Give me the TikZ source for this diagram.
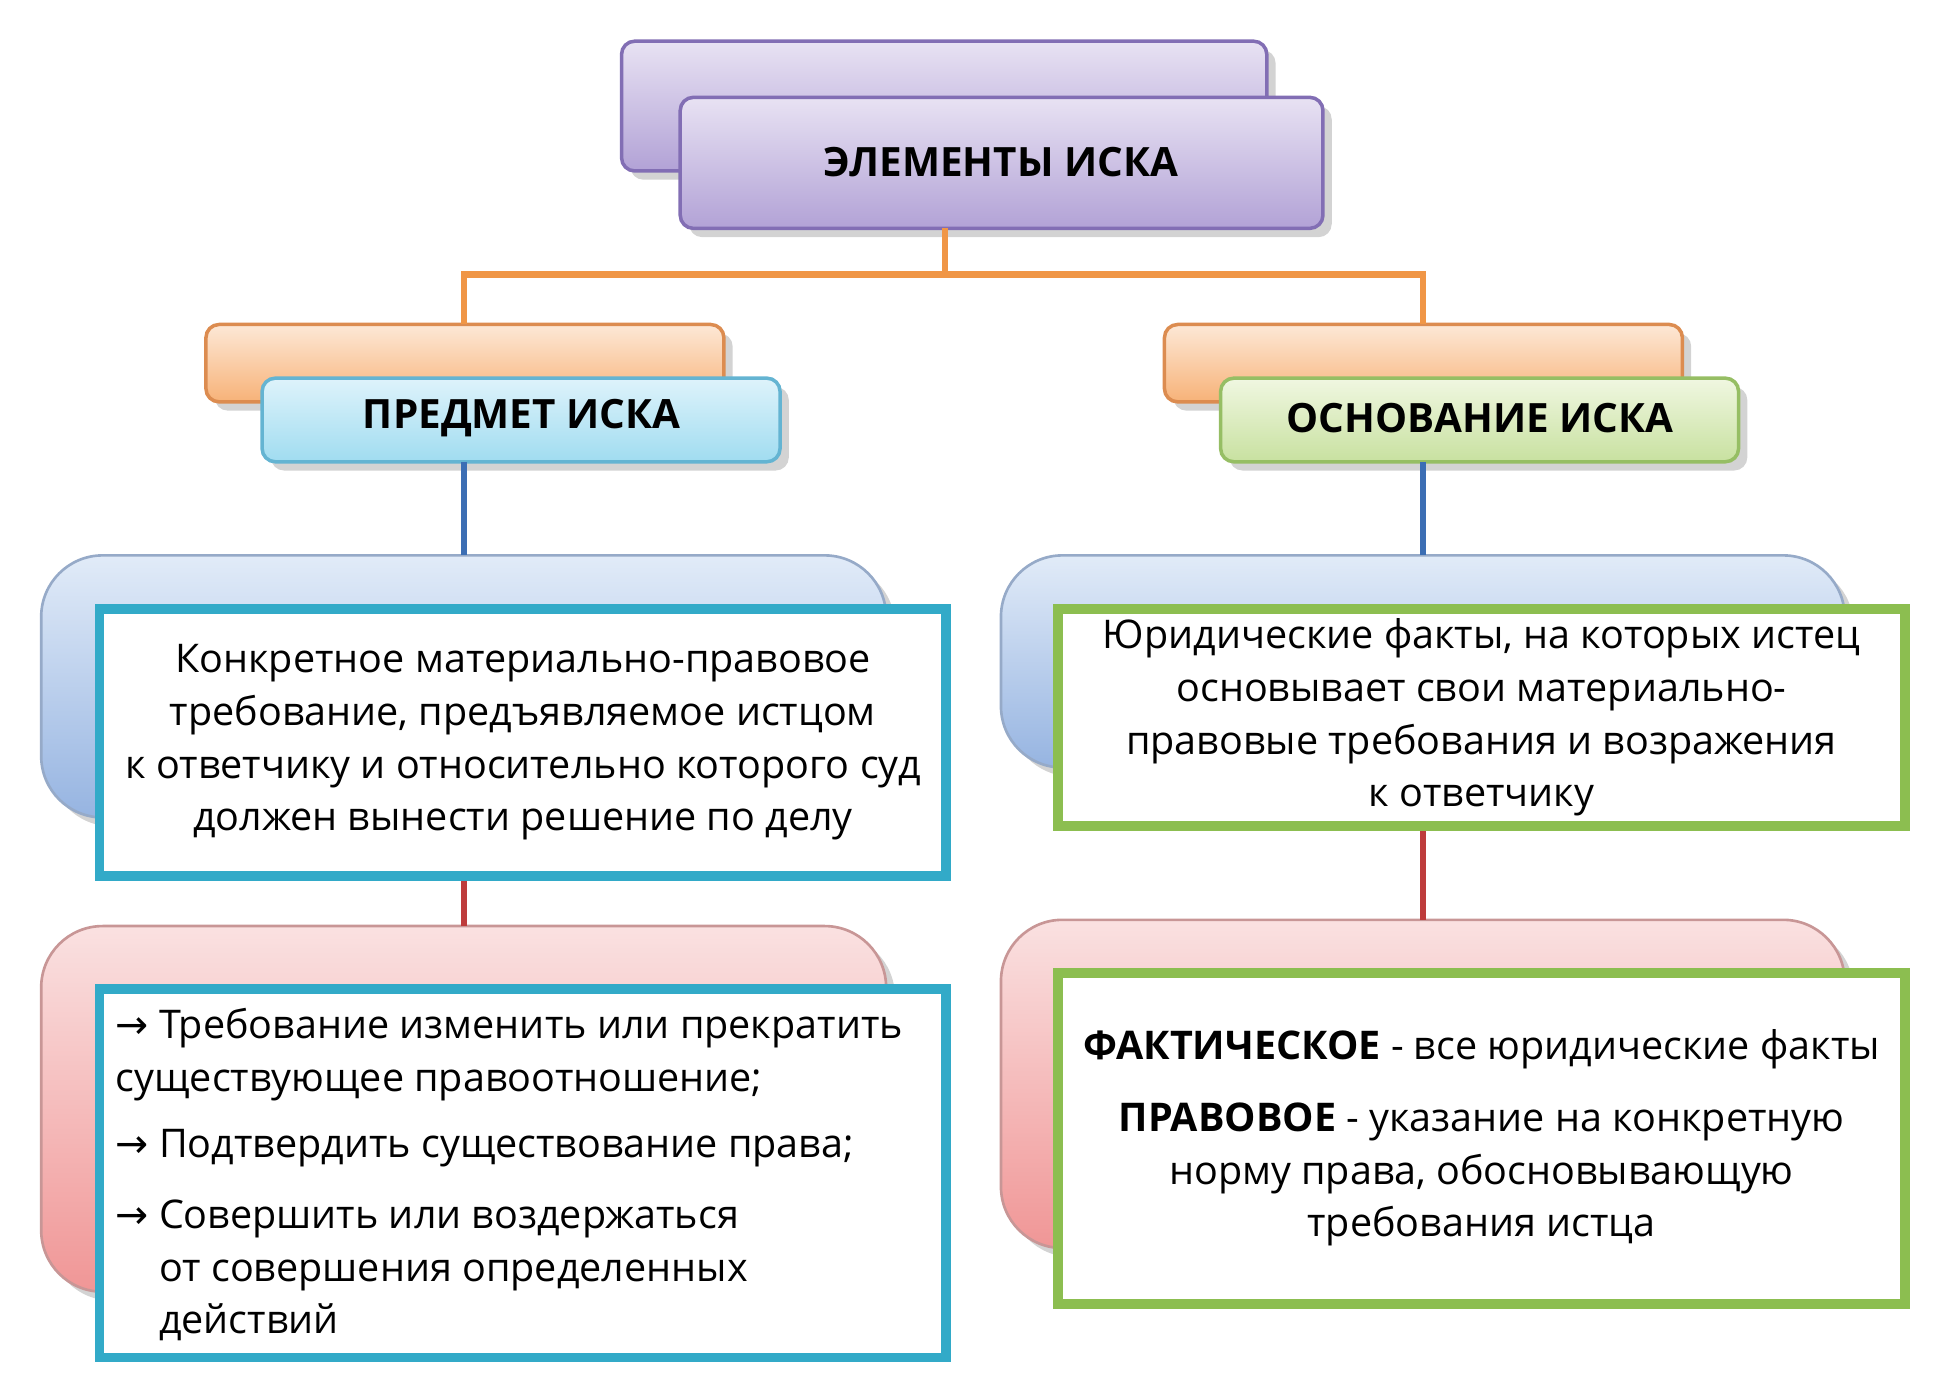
\documentclass[tikz,border=0pt]{standalone}
\usepackage{fontspec}
\setmainfont{Open Sans}
\newfontfamily\arr{DejaVu Sans}
\usetikzlibrary{shadows}
\definecolor{purT}{RGB}{232,226,243}\definecolor{purB}{RGB}{178,162,214}\definecolor{purD}{RGB}{130,110,180}
\definecolor{orT}{RGB}{253,232,214}\definecolor{orB}{RGB}{247,178,120}\definecolor{orD}{RGB}{220,140,80}
\definecolor{bluT}{RGB}{222,243,251}\definecolor{bluB}{RGB}{160,220,240}\definecolor{bluD}{RGB}{100,180,210}
\definecolor{grT}{RGB}{240,247,225}\definecolor{grB}{RGB}{200,225,160}\definecolor{grD}{RGB}{150,190,100}
\definecolor{lbT}{RGB}{225,235,248}\definecolor{lbB}{RGB}{150,180,225}\definecolor{lbD}{RGB}{150,170,200}
\definecolor{pkT}{RGB}{250,225,225}\definecolor{pkB}{RGB}{240,150,150}\definecolor{pkD}{RGB}{200,150,150}
\definecolor{teal}{RGB}{50,170,200}\definecolor{grn}{RGB}{140,190,80}
\definecolor{orl}{RGB}{240,150,70}\definecolor{bll}{RGB}{60,110,180}\definecolor{rdl}{RGB}{190,60,60}
\tikzset{
 boxb/.style n args={3}{draw=#3,line width=0.8pt,rounded corners=3pt,top color=#1,bottom color=#2,drop shadow={opacity=0.35,shadow xshift=2pt,shadow yshift=-2pt}},
 bigb/.style n args={3}{draw=#3,line width=0.6pt,rounded corners=14pt,top color=#1,bottom color=#2,drop shadow={opacity=0.35,shadow xshift=2pt,shadow yshift=-2pt}},
 txt/.style={align=center,font=\fontsize{9.0}{12}\selectfont},
 hd/.style={font=\fontsize{9.2}{11}\selectfont\bfseries},
 conn/.style={line width=1.4pt}
}
\newcommand\ar{{\arr →}\ }
\begin{document}
\begin{tikzpicture}[x=0.01cm,y=-0.01cm]
\useasboundingbox (0,0) rectangle (1560,1107);
% top
\draw[boxb={purT}{purB}{purD}] (498,33) rectangle (1015,137);
\draw[boxb={purT}{purB}{purD}] (545,78) rectangle (1060,183);
\node[hd] (top) at (802,130) {ЭЛЕМЕНТЫ ИСКА};
\coordinate (topb) at (757,183);
% level 2
\draw[boxb={orT}{orB}{orD}] (165,260) rectangle (580,322);
\draw[boxb={bluT}{bluB}{bluD}] (210,303) rectangle (625,370);
\node[hd] (pr) at (418,335) {ПРЕДМЕТ ИСКА};
\draw[boxb={orT}{orB}{orD}] (933,260) rectangle (1348,322);
\draw[boxb={grT}{grB}{grD}] (978,303) rectangle (1393,370);
\node[hd] (os) at (1186,335) {ОСНОВАНИЕ ИСКА};
\coordinate (lt) at (372,260);\coordinate (rt) at (1140,260);
\draw[conn,orl] (topb) -- (757,220) -| (lt);
\draw[conn,orl] (757,220) -| (rt);
% level 3 backs
\draw[bigb={lbT}{lbB}{lbD}] (33,445) rectangle (710,655);
\draw[bigb={lbT}{lbB}{lbD}] (802,445) rectangle (1478,615);
\draw[bigb={pkT}{pkB}{pkD}] (33,742) rectangle (710,1035);
\draw[bigb={pkT}{pkB}{pkD}] (802,737) rectangle (1478,1000);
\draw[conn,bll] (372,370) -- (372,445);
\draw[conn,bll] (1140,370) -- (1140,445);
\draw[conn,rdl] (372,702) -- (372,742);
\draw[conn,rdl] (1140,662) -- (1140,737);
% front boxes
\node[draw=teal,line width=2.2pt,fill=white,minimum width=6.78cm,minimum height=2.14cm,txt] (a) at (419,595)
 {Конкретное материально-правовое\\требование, предъявляемое истцом\\к ответчику и относительно которого суд\\должен вынести решение по делу};
\node[draw=grn,line width=2.2pt,fill=white,minimum width=6.78cm,minimum height=1.74cm,txt,inner sep=0pt] (b) at (1187,575)
 {Юридические факты, на которых истец\\основывает свои материально-\\правовые требования и возражения\\к ответчику};
\node[draw=teal,line width=2.2pt,fill=white,minimum width=6.78cm,minimum height=2.95cm] (c) at (419,940) {};
\node[draw=grn,line width=2.2pt,fill=white,minimum width=6.78cm,minimum height=2.65cm] (d) at (1187,912) {};
\begin{scope}[every node/.style={txt,align=left,anchor=west,inner sep=0pt}]
\node (c1) at (92,845) {\ar Требование изменить или прекратить\\существующее правоотношение;};
\node (c2) at (92,920) {\ar Подтвердить существование права;};
\node (c3) at (92,1018) {\ar Совершить или воздержаться\\\hphantom{\ar}от совершения определенных\\\hphantom{\ar}действий};
\end{scope}
\node[txt] (d1) at (1187,841) {\textbf{ФАКТИЧЕСКОЕ} - все юридические факты};
\node[txt] (d2) at (1187,941) {\textbf{ПРАВОВОЕ} - указание на конкретную\\норму права, обосновывающую\\требования истца};
\end{tikzpicture}
\end{document}
